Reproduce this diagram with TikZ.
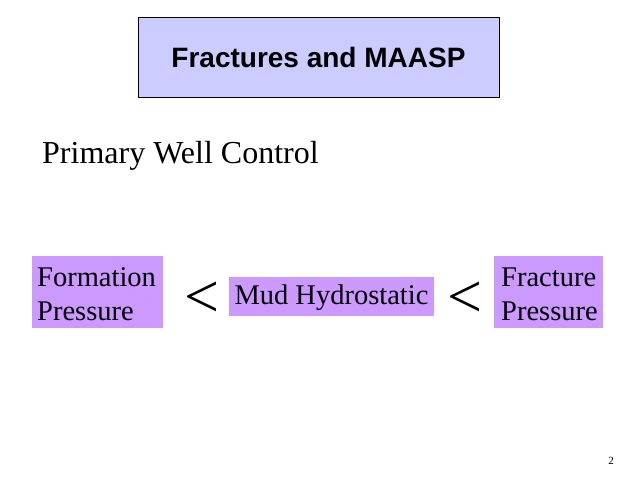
\documentclass[tikz,border=0pt]{standalone}
\usepackage{fontspec}
\setmainfont{Liberation Serif}
\setsansfont{Liberation Sans}
\begin{document}
\begin{tikzpicture}[x=1pt,y=-1pt,
  pbox/.style={fill=purp,draw=none,inner sep=0pt},
  txt/.style={font=\fontsize{28.5}{34}\selectfont,align=left}]
\definecolor{purp}{HTML}{CC99FF}
\definecolor{lav}{HTML}{CCCCFF}
\useasboundingbox (0,0) rectangle (638,478);
\node[draw=black,fill=lav,minimum width=361,minimum height=80,inner sep=0pt,font=\sffamily\bfseries\fontsize{28}{32}\selectfont] (title) at (318.5,57) {Fractures and MAASP};
\node[anchor=west,inner sep=0pt,font=\fontsize{32}{36}\selectfont] (pwc) at (42,156) {Primary Well Control};
\node[pbox,minimum width=131,minimum height=72] (fb) at (97.5,292) {};
\node[txt,anchor=west,inner sep=0pt] (ft) at (37,294) {Formation\\Pressure};
\node[pbox,minimum width=205,minimum height=39] (mb) at (331.5,296.5) {};
\node[txt,inner sep=0pt] (mt) at (331.5,298) {Mud Hydrostatic};
\node[pbox,minimum width=109,minimum height=72] (rb) at (548.5,292) {};
\node[txt,anchor=east,inner sep=0pt] (rt) at (598,294) {Fracture\\Pressure};
\node[font=\fontsize{62}{66}\selectfont,inner sep=0pt] (lt1) at (202,300) {<};
\node[font=\fontsize{62}{66}\selectfont,inner sep=0pt] (lt2) at (465,300) {<};
\node[font=\fontsize{11}{13}\selectfont,inner sep=0pt] (pg) at (611,461) {2};
\end{tikzpicture}
\end{document}
